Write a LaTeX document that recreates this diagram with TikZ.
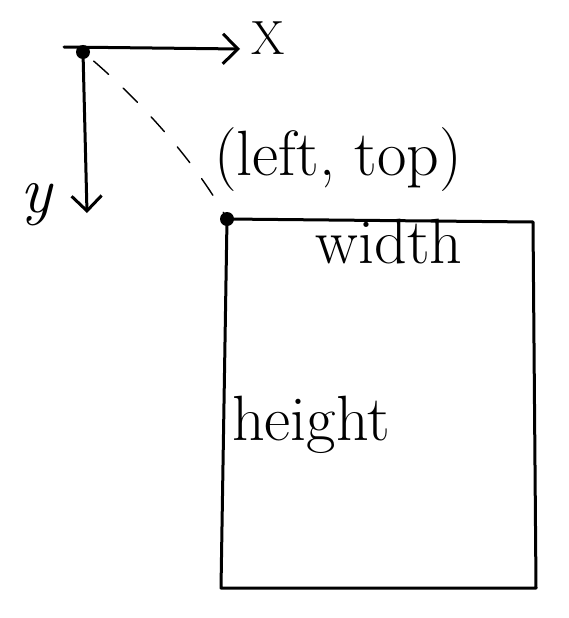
\documentclass[tikz,border=0pt]{standalone}
\usetikzlibrary{arrows.meta}
\begin{document}
\begin{tikzpicture}[x=1pt,y=-1pt,line width=3pt,line cap=round,line join=round,
  axisline/.style={-{Straight Barb[length=15pt,width=30pt,line width=3pt]}},
  dashcurve/.style={line width=1.4pt,dash pattern=on 20pt off 20pt,dash phase=-14pt},
  dotmark/.style={circle,fill=black,inner sep=0pt,minimum size=14pt},
  lbl/.style={inner sep=0pt,font=\fontsize{50}{60}\selectfont}]
\useasboundingbox (0,0) rectangle (568,618);
% axes
\coordinate (xs) at (64,47);
\coordinate (xe) at (240,49);
\node[dotmark] (o) at (83,52) {};
\coordinate (ye) at (87,213);
\draw[axisline] (xs) -- (xe);
\draw[axisline] (o.center) -- (ye);
\node[lbl,font=\fontsize{48}{50}\selectfont] (xl) at (268,38) {X};
\node[lbl,font=\fontsize{66}{70}\selectfont\itshape] (yl) at (36,205) {y};
% top-left corner
\node[dotmark] (lt) at (227,219) {};
\draw[dashcurve] (o.center) .. controls (135,95) and (195,160) .. (lt.center);
\node[lbl,font=\fontsize{64}{70}\selectfont] (ltl) at (338,160) {(left, top)};
% rectangle
\coordinate (tr) at (533,222);
\coordinate (br) at (536,588);
\coordinate (bl) at (221,588);
\draw (lt.center) -- (tr) -- (br) -- (bl) -- cycle;
\node[lbl,font=\fontsize{64}{70}\selectfont] (wl) at (389,242) {width};
\node[lbl,font=\fontsize{64}{70}\selectfont] (hl) at (311,425) {height};
\end{tikzpicture}
\end{document}
